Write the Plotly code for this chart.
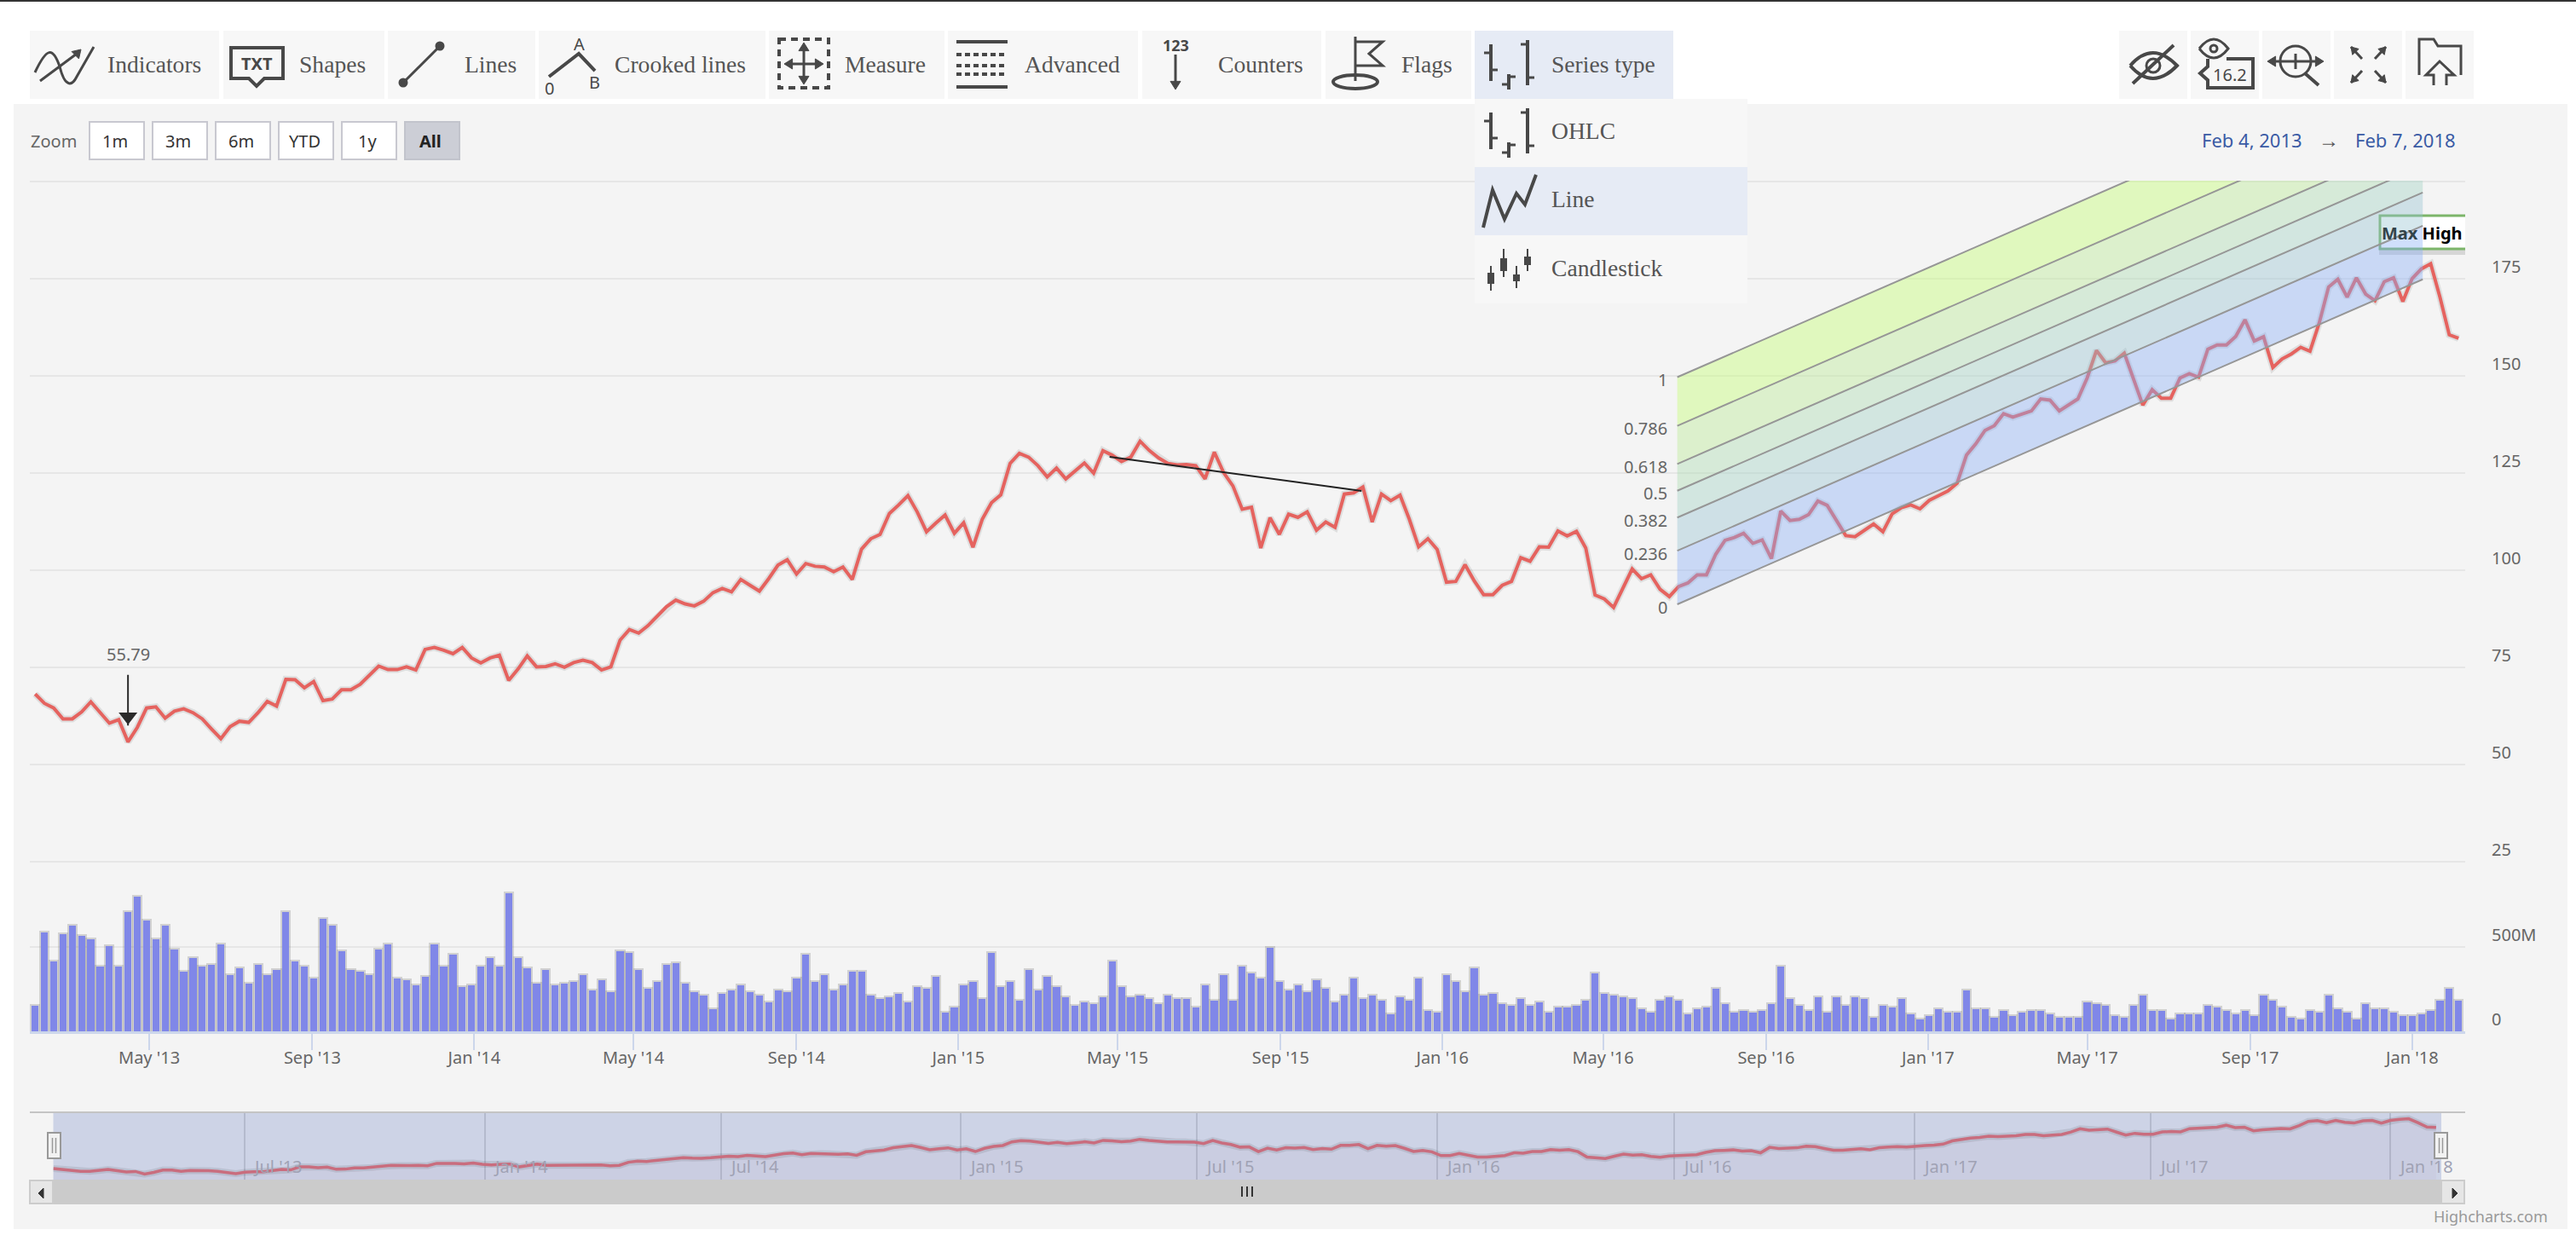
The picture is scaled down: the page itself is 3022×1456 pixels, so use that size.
import pandas as pd
import plotly.graph_objects as go

W = 3022
H = 1456
SANS = "Noto Sans"
SERIF = "Liberation Serif"
DARK = "#484848"

# weekly closes, Feb 4 2013 -> Feb 5 2018
close = [
    68.1, 65.7, 64.5, 61.7, 61.7, 63.5, 66.1, 63.3, 60.6, 61.5, 55.79, 59.5, 64.5, 64.8, 61.9, 63.7,
    64.3, 63.3, 61.7, 59.1, 56.6, 59.7, 61.1, 60.8, 63.3, 66.2, 65.0, 71.9, 71.8, 69.7, 71.3, 66.4,
    66.8, 69.2, 69.2, 70.6, 73.0, 75.3, 74.4, 74.4, 75.1, 74.3, 79.6, 80.1, 79.4, 78.5, 80.1, 77.4,
    76.1, 77.4, 78.1, 71.6, 74.5, 77.9, 75.1, 75.2, 75.9, 75.0, 76.2, 76.8, 76.2, 74.3, 75.1, 82.0,
    84.7, 83.8, 85.7, 88.0, 90.6, 92.3, 91.3, 90.8, 92.0, 94.2, 95.3, 94.4, 97.6, 96.1, 94.6, 97.8,
    101.3, 102.7, 99.0, 101.7, 101.0, 100.8, 99.6, 100.8, 97.6, 105.4, 108.1, 109.2, 114.6, 116.8, 119.2, 115.0,
    109.9, 112.1, 114.2, 109.5, 112.2, 105.9, 113.1, 117.4, 119.4, 127.5, 130.1, 129.1, 126.9, 124.0, 126.3, 123.5,
    125.6, 127.6, 125.0, 130.8, 129.6, 128.0, 129.1, 133.2, 130.8, 128.9, 127.5, 127.1, 127.2, 126.9, 123.5, 130.4,
    125.1, 121.7, 115.7, 116.2, 105.7, 113.5, 109.2, 114.4, 113.6, 115.0, 110.3, 112.4, 111.0, 119.6, 119.9, 121.4,
    112.4, 119.6, 117.9, 119.3, 113.1, 106.0, 108.1, 105.3, 96.9, 97.1, 101.4, 97.2, 93.7, 93.7, 96.1, 97.1,
    103.2, 102.3, 106.0, 105.9, 110.1, 108.8, 110.0, 105.7, 93.6, 92.6, 90.4, 95.4, 100.3, 97.8, 98.8, 95.1,
    93.2, 95.8, 96.7, 98.8, 98.8, 104.1, 107.7, 108.4, 109.5, 106.9, 107.8, 103.0, 115.2, 112.8, 113.1, 114.3,
    117.8, 116.7, 112.6, 108.9, 108.6, 110.2, 111.9, 109.9, 114.5, 116.1, 116.8, 115.8, 118.0, 119.2, 120.4, 122.4,
    129.6, 132.5, 136.0, 137.2, 140.3, 139.4, 140.3, 141.0, 144.1, 143.8, 141.0, 142.6, 144.1, 149.5, 156.6, 153.4,
    153.9, 155.9, 149.1, 142.5, 146.5, 144.3, 144.3, 149.5, 150.6, 149.7, 156.9, 158.0, 158.0, 160.2, 164.5, 159.0,
    160.1, 152.2, 154.4, 155.7, 157.4, 156.4, 163.7, 172.9, 174.9, 170.3, 175.3, 171.1, 169.4, 174.3, 175.3, 169.2,
    175.1, 177.6, 178.9, 170.3, 160.6, 159.7,
]

# weekly volume, millions
volume = [
    152, 586, 414, 576, 626, 566, 545, 384, 505, 384, 707, 798, 657, 545, 626, 485, 354, 434, 384, 394,
    515, 333, 374, 283, 394, 333, 364, 707, 414, 384, 313, 667, 626, 475, 364, 354, 333, 485, 515, 313,
    303, 273, 323, 515, 384, 455, 263, 273, 384, 434, 384, 818, 434, 374, 283, 364, 273, 283, 293, 333,
    242, 303, 232, 475, 465, 364, 253, 293, 394, 404, 283, 232, 212, 131, 222, 242, 273, 232, 212, 172,
    242, 232, 313, 455, 293, 333, 242, 273, 354, 354, 212, 192, 202, 222, 172, 263, 253, 323, 111, 141,
    273, 293, 192, 465, 263, 293, 182, 364, 242, 323, 263, 202, 152, 172, 162, 202, 414, 263, 202, 212,
    192, 162, 212, 192, 192, 141, 273, 182, 333, 182, 384, 343, 313, 495, 293, 242, 273, 232, 303, 253,
    172, 212, 313, 192, 212, 182, 101, 202, 182, 313, 121, 111, 333, 293, 232, 374, 212, 222, 162, 152,
    192, 152, 172, 111, 141, 141, 152, 182, 343, 222, 212, 202, 192, 131, 111, 182, 202, 182, 101, 131,
    141, 253, 162, 111, 121, 111, 121, 162, 384, 192, 152, 121, 202, 111, 202, 152, 202, 192, 81, 152,
    141, 192, 101, 71, 91, 131, 111, 111, 242, 131, 131, 81, 121, 91, 111, 121, 121, 101, 81, 81,
    81, 172, 162, 152, 91, 81, 152, 212, 121, 121, 71, 101, 101, 101, 152, 141, 121, 101, 121, 91,
    212, 182, 141, 81, 71, 121, 111, 212, 131, 111, 71, 162, 131, 131, 111, 91, 91, 101, 121, 182,
    253, 182,
]

tick_dates = ["2013-05-01", "2013-09-01", "2014-01-01", "2014-05-01", "2014-09-01", "2015-01-01", "2015-05-01",
              "2015-09-01", "2016-01-01", "2016-05-01", "2016-09-01", "2017-01-01", "2017-05-01", "2017-09-01",
              "2018-01-01"]
tick_text = ["May '13", "Sep '13", "Jan '14", "May '14", "Sep '14", "Jan '15", "May '15", "Sep '15", "Jan '16",
             "May '16", "Sep '16", "Jan '17", "May '17", "Sep '17", "Jan '18"]
nav_dates = ["2013-07-01", "2014-01-01", "2014-07-01", "2015-01-01", "2015-07-01", "2016-01-01", "2016-07-01",
             "2017-01-01", "2017-07-01", "2018-01-01"]
nav_text = ["Jul '13", "Jan '14", "Jul '14", "Jan '15", "Jul '15", "Jan '16", "Jul '16", "Jan '17", "Jul '17",
            "Jan '18"]
price_ticks = [25, 50, 75, 100, 125, 150, 175, 200]
price_text = ["25", "50", "75", "100", "125", "150", "175", ""]

fib_levels = [0, 0.236, 0.382, 0.5, 0.618, 0.786, 1]
fib_text = ["0", "0.236", "0.382", "0.5", "0.618", "0.786", "1"]
fib_fill = ["rgba(137,174,247,0.4)", "rgba(151,194,209,0.4)", "rgba(161,209,194,0.4)",
            "rgba(171,221,176,0.4)", "rgba(184,234,144,0.4)", "rgba(194,254,109,0.4)"]
fib_dates = ["2016-06-26", "2018-01-09"]
fib_base = [91.2, 174.9]
fib_height = 58.5

trend_dates = ["2015-04-25", "2015-11-01"]
trend_values = [129.2, 120.4]

dates = pd.date_range("2013-02-04", periods=len(close), freq="7D")


def px(x):
    return x / W


def py(y):
    return 1 - y / H


def pt(x, y):
    return f"{px(x):.5f} {py(y):.5f}"


shapes = []
notes = []


def rect(x0, y0, x1, y1, fill, line=None, lw=0, layer="above"):
    shapes.append(dict(type="rect", xref="paper", yref="paper", x0=px(x0), x1=px(x1), y0=py(y0), y1=py(y1),
                       fillcolor=fill, line=dict(color=line or fill, width=lw), layer=layer))


def stroke(points, color=DARK, lw=3, fill=None, close_it=False, dash=None, layer="above"):
    path = "M" + " L".join(pt(x, y) for x, y in points) + (" Z" if close_it else "")
    shapes.append(dict(type="path", xref="paper", yref="paper", path=path, fillcolor=fill,
                       line=dict(color=color, width=lw, dash=dash), layer=layer))


def ellipse(cx, cy, rx, ry, color=DARK, lw=3, fill=None):
    shapes.append(dict(type="circle", xref="paper", yref="paper", x0=px(cx - rx), x1=px(cx + rx), y0=py(cy - ry),
                       y1=py(cy + ry), fillcolor=fill, line=dict(color=color, width=lw), layer="above"))


def curve(path_px, color=DARK, lw=3):
    # path_px: list of (command, points)
    s = ""
    for cmd, pts in path_px:
        s += cmd + " ".join(pt(x, y) for x, y in pts) + " "
    shapes.append(dict(type="path", xref="paper", yref="paper", path=s, line=dict(color=color, width=lw), layer="above"))


def note(text, x, y, size=20, color="#666666", anchor="left", font=SANS):
    notes.append(dict(text=text, x=px(x), y=py(y), xref="paper", yref="paper", showarrow=False, xanchor=anchor,
                      yanchor="middle", font=dict(family=font, size=size, color=color)))


def arrowhead(x, y, dx, dy, size=6):
    # small filled triangle with tip at x,y, pointing along dx,dy
    nx, ny = -dy, dx
    stroke([(x, y), (x - dx * size * 1.6 + nx * size, y - dy * size * 1.6 + ny * size),
            (x - dx * size * 1.6 - nx * size, y - dy * size * 1.6 - ny * size)], lw=1, fill=DARK, close_it=True)


def ohlc_icon(dy):
    for x, top, bot, left, right in [(1749, 52, 95, 62, 82), (1770, 87, 105, 99, 90), (1792, 47, 100, 52, 91)]:
        stroke([(x, top + dy), (x, bot + dy)], lw=4)
        stroke([(x - 8, left + dy), (x, left + dy)], lw=3)
        stroke([(x, right + dy), (x + 8, right + dy)], lw=3)


# page chrome
rect(16, 122, 3012, 1442, "#f4f4f4", layer="below")
stroke([(0, 1), (W, 1)], color="#333333", lw=2)

for x0, x1 in [(35, 257), (262, 451), (455, 628), (632, 898), (902, 1108), (1112, 1335), (1340, 1550), (1555, 1726),
               (2486, 2566), (2570, 2650), (2654, 2734), (2738, 2818), (2822, 2902)]:
    rect(x0, 36, x1, 116, "#f7f7f7")
rect(1730, 36, 1963, 116, "#e6ebf5")
rect(1730, 116, 2050, 356, "#f7f7f7")
rect(1730, 196, 2050, 276, "#e6ebf5")

for text, x, y in [("Indicators", 124, 75), ("Shapes", 349, 75), ("Lines", 543, 75), ("Crooked lines", 719, 75),
                   ("Measure", 989, 75), ("Advanced", 1200, 75), ("Counters", 1427, 75), ("Flags", 1642, 75),
                   ("Series type", 1818, 75), ("OHLC", 1818, 154), ("Line", 1818, 234), ("Candlestick", 1818, 314)]:
    note(text, x, y, size=27.6, color="#555555", font=SERIF)

# toolbar icons
curve([("M", [(41, 85)]), ("C", [(55, 55), (62, 55), (70, 78)]), ("C", [(76, 102), (84, 102), (90, 90)]),
       ("L", [(110, 55)])])
stroke([(47, 95), (90, 63)])
arrowhead(95, 58, 0.7, -0.7)
stroke([(271, 56), (332, 56), (332, 92), (310, 92), (301, 101), (292, 92), (271, 92)], lw=4, close_it=True)
note("<b>TXT</b>", 301, 74, size=20, color=DARK, anchor="center")
stroke([(473, 97), (516, 54)])
ellipse(473, 97, 4, 4, fill=DARK)
ellipse(516, 54, 4, 4, fill=DARK)
stroke([(644, 90), (679, 63), (698, 83)], lw=4)
note("A", 679, 52, size=20, color=DARK, anchor="center")
note("B", 697, 97, size=20, color=DARK, anchor="center")
note("0", 644, 104, size=20, color=DARK, anchor="center")
stroke([(914, 46), (972, 46), (972, 103), (914, 103)], lw=4, close_it=True, dash="8px,6px")
stroke([(943, 56), (943, 94)])
stroke([(925, 75), (961, 75)])
arrowhead(943, 50, 0, -1)
arrowhead(943, 99, 0, 1)
arrowhead(920, 75, -1, 0)
arrowhead(966, 75, 1, 0)
for y in [49, 102]:
    stroke([(1122, y), (1182, y)], lw=4)
for y in [64, 77, 87]:
    stroke([(1122, y), (1182, y)], lw=4, dash="6px,4px")
note("<b>123</b>", 1379, 53, size=18, color=DARK, anchor="center")
stroke([(1379, 64), (1379, 96)])
arrowhead(1379, 105, 0, 1)
stroke([(1590, 43), (1590, 95)])
stroke([(1590, 49), (1622, 49), (1606, 63), (1622, 77), (1590, 77)])
ellipse(1590, 96, 26, 8, lw=4)
ohlc_icon(0)
ohlc_icon(80)
stroke([(1740, 267), (1751, 223), (1765, 257), (1779, 227), (1789, 240), (1802, 205)], lw=4)
for x, top, bot, b0, b1 in [(1749, 312, 341, 320, 333), (1764, 292, 325, 303, 318), (1779, 312, 338, 322, 330),
                            (1792, 292, 318, 301, 311)]:
    stroke([(x, top), (x, bot)], lw=2)
    rect(x - 4, b0, x + 4, b1, DARK)

curve([("M", [(2499, 77)]), ("Q", [(2525, 47), (2554, 77)]), ("Q", [(2525, 107), (2499, 77)])], lw=4)
ellipse(2526, 77, 8, 8)
stroke([(2502, 98), (2550, 53)], lw=4)
curve([("M", [(2580, 57)]), ("Q", [(2597, 35), (2614, 57)]), ("Q", [(2597, 79), (2580, 57)])])
ellipse(2597, 57, 4, 4)
stroke([(2612, 69), (2643, 69), (2643, 103), (2590, 103), (2590, 94), (2581, 86), (2590, 78), (2590, 69)], lw=4)
note("16.2", 2616, 87, size=20, color=DARK, anchor="center")
ellipse(2693, 72, 18, 18)
stroke([(2693, 63), (2693, 81)])
stroke([(2664, 72), (2722, 72)])
arrowhead(2660, 72, -1, 0)
arrowhead(2726, 72, 1, 0)
stroke([(2704, 86), (2720, 100)], lw=4)
for x0, y0, x1, y1 in [(2771, 69, 2758, 55), (2786, 69, 2799, 55), (2771, 83, 2758, 97), (2786, 83, 2799, 97)]:
    stroke([(x0, y0), (x1, y1)])
    arrowhead(x1, y1, (x1 - x0) / 19, (y1 - y0) / 19, size=5)
stroke([(2838, 88), (2838, 46), (2855, 46), (2860, 54), (2887, 54), (2887, 88)])
stroke([(2855, 100), (2855, 88), (2846, 88), (2862, 72), (2879, 88), (2870, 88), (2870, 100)])

# range selector
note("Zoom", 34, 165, size=20)
for label, x0, x1 in [("1m", 105, 169), ("3m", 179, 243), ("6m", 253, 317), ("YTD", 327, 391), ("1y", 401, 465)]:
    rect(x0, 143, x1, 187, "#ffffff", line="#c8c8d0", lw=2)
    note(label, (x0 + x1) / 2 - 2, 165, size=20, color="#333333", anchor="center")
rect(475, 143, 539, 187, "#ccced6", line="#c2c4cc", lw=2)
note("<b>All</b>", 505, 165, size=20, color="#222222", anchor="center")

note("Feb 4, 2013", 2581, 164, size=22, color="#3a5ba5")
note("→", 2732, 163, size=24, color="#555555", anchor="center")
note("Feb 7, 2018", 2761, 164, size=22, color="#3a5ba5")

# label drawn under the fib channel
rect(2791, 293, 2892, 299, "rgba(0,0,0,0.12)", layer="below")
rect(2791, 252, 2892, 293, "#ffffff", layer="below")
stroke([(2892, 253), (2792, 253), (2792, 292), (2892, 292)], color="#7cb56a", lw=3, layer="below")
note("<b><span style='color:#33434a'>Max</span> High</b>", 2841, 273, size=20, color="#000000", anchor="center")

# navigator and scrollbar
rect(62.5, 1305, 2864, 1384, "#cdd3e6", layer="below")
stroke([(35, 1305), (2892, 1305)], color="#c4c4c4", lw=2, layer="below")
rect(34, 1384, 2892, 1413, "#cbcbcb")
rect(35, 1385, 62, 1412, "#e6e6e6", line="#cccccc", lw=2)
rect(2864, 1385, 2891, 1412, "#e6e6e6", line="#cccccc", lw=2)
stroke([(45, 1400), (51, 1394), (51, 1406)], color="#333333", lw=1, fill="#333333", close_it=True)
stroke([(2883, 1400), (2877, 1394), (2877, 1406)], color="#333333", lw=1, fill="#333333", close_it=True)
for x in [1457, 1463, 1469]:
    stroke([(x, 1392), (x, 1404)], color="#333333", lw=2)
for x0, x1 in [(56, 71), (2856, 2871)]:
    rect(x0, 1329, x1, 1359, "#f2f2f2", line="#999999", lw=2)
    mid = (x0 + x1) / 2
    stroke([(mid - 2, 1335), (mid - 2, 1353)], color="#999999", lw=1.5)
    stroke([(mid + 2, 1335), (mid + 2, 1353)], color="#999999", lw=1.5)
note("Highcharts.com", 2991, 1427, size=18, color="#999999", anchor="right")

for d, label in zip(nav_dates, nav_text):
    notes.append(dict(text=label, x=d, xref="x3", y=py(1368), yref="paper", showarrow=False, xanchor="left", xshift=8,
                      yanchor="middle", font=dict(family=SANS, size=20, color="#a0a2b4")))

fig = go.Figure()
# soft shadow under the price line
fig.add_trace(go.Scatter(x=dates, y=close, mode="lines", line=dict(color="rgba(0,0,0,0.09)", width=8), xaxis="x", yaxis="y"))
fig.add_trace(go.Scatter(x=dates, y=close, mode="lines", line=dict(color="#e5635f", width=4), xaxis="x", yaxis="y"))
vol = [v * 1e6 for v in volume]
# grey halo first, then the blue bar on top of it
fig.add_trace(go.Bar(x=dates, y=vol, width=5.3 * 86400000,
                     marker=dict(color="rgba(0,0,0,0)", line=dict(color="rgba(130,130,130,0.3)", width=4)),
                     xaxis="x2", yaxis="y2"))
fig.add_trace(go.Bar(x=dates, y=vol, width=5.3 * 86400000, marker=dict(color="#8087e8", line=dict(width=0)),
                     xaxis="x2", yaxis="y2"))
fig.add_trace(go.Scatter(x=dates, y=close, mode="lines", line=dict(color="rgba(0,0,0,0.09)", width=8), xaxis="x3", yaxis="y3"))
fig.add_trace(go.Scatter(x=dates, y=close, mode="lines", line=dict(color="#c96d7e", width=3.5), fill="tozeroy",
                         fillcolor="rgba(150,100,130,0.05)", xaxis="x3", yaxis="y3"))

# fibonacci channel over the line
for i in range(len(fib_levels) - 1):
    low = [b + fib_levels[i] * fib_height for b in fib_base]
    high = [b + fib_levels[i + 1] * fib_height for b in fib_base]
    fig.add_trace(go.Scatter(x=fib_dates + fib_dates[::-1], y=low + high[::-1], mode="lines", line=dict(width=0),
                             fill="toself", fillcolor=fib_fill[i], xaxis="x", yaxis="y"))
for lvl, label in zip(fib_levels, fib_text):
    vals = [b + lvl * fib_height for b in fib_base]
    fig.add_trace(go.Scatter(x=fib_dates, y=vals, mode="lines", line=dict(color="#969696", width=2), xaxis="x", yaxis="y"))
    notes.append(dict(text=label, x=fib_dates[0], y=vals[0], xref="x", yref="y", showarrow=False, xanchor="right",
                      yanchor="middle", xshift=-10, yshift=-3, font=dict(family=SANS, size=20, color="#666666")))

fig.add_trace(go.Scatter(x=trend_dates, y=trend_values, mode="lines", line=dict(color="#222222", width=2), xaxis="x", yaxis="y"))

# 55.79 flag
fig.add_trace(go.Scatter(x=[dates[10]], y=[62.3], mode="markers", marker=dict(symbol="triangle-down", size=19, color="#2a2a2a"),
                         xaxis="x", yaxis="y"))
notes.append(dict(x=dates[10], y=60.0, xref="x", yref="y", ax=0, ay=-61, text="", showarrow=True, arrowhead=0, arrowwidth=2,
                  arrowcolor="#2a2a2a"))
notes.append(dict(x=dates[10], y=78.4, xref="x", yref="y", text="55.79", showarrow=False,
                  font=dict(family=SANS, size=20, color="#666666")))

x_start = "2013-01-31"
x_end = "2018-02-10"
dom_x = [px(35), px(2892)]
tick_font = dict(family=SANS, size=20, color="#666666")

fig.update_layout(
    width=W, height=H, margin=dict(l=0, r=0, t=0, b=0), showlegend=False,
    paper_bgcolor="#ffffff", plot_bgcolor="rgba(0,0,0,0)", barmode="overlay", bargap=0, hovermode=False,
    shapes=shapes, annotations=notes,
    xaxis=dict(domain=dom_x, range=[x_start, x_end], anchor="y", showgrid=False, showticklabels=False, ticks="", showline=False, zeroline=False),
    yaxis=dict(domain=[py(1012), py(212)], range=[24.7, 200.3], side="right", anchor="x", tickvals=price_ticks, ticktext=price_text,
               showgrid=True, gridcolor="#e6e6e6", gridwidth=2, zeroline=False, tickfont=tick_font,
               ticks="", ticklabelposition="outside top", ticklabelstandoff=30),
    xaxis2=dict(domain=dom_x, range=[x_start, x_end], anchor="y2", tickvals=tick_dates, ticktext=tick_text, ticks="outside", ticklen=19,
                tickcolor="#ccd6eb", tickwidth=2, showgrid=False, showline=True, linecolor="#ccd6eb", linewidth=3,
                zeroline=False, tickfont=tick_font, ticklabelstandoff=-8),
    yaxis2=dict(domain=[py(1210), py(1012)], range=[0, 1000e6], side="right", anchor="x2", tickvals=[0, 500e6], ticktext=["0", "500M"],
                showgrid=True, gridcolor="#e6e6e6", gridwidth=2, zeroline=False, tickfont=tick_font,
                ticks="", ticklabelposition="outside top", ticklabelstandoff=30),
    xaxis3=dict(domain=[px(62.5), px(2864)], range=["2013-02-04", "2018-02-09"], anchor="y3", tickvals=nav_dates,
                showticklabels=False, showgrid=True, gridcolor="#b4bacd", gridwidth=1.5, ticks="", showline=False, zeroline=False),
    yaxis3=dict(domain=[py(1384), py(1306)], range=[43.3, 191.4], anchor="x3", visible=False),
)

fig.write_html("out.html", config=dict(displayModeBar=False),
               post_script="document.body.style.margin='0';document.body.style.overflow='hidden';")
